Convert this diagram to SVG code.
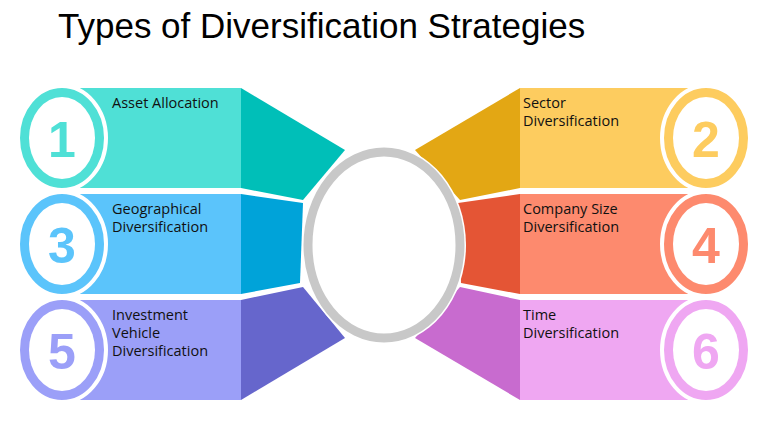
<svg xmlns="http://www.w3.org/2000/svg" width="768" height="437" viewBox="0 0 768 437">
<style>
.t{font-family:"Open Sans",sans-serif;font-size:14.5px;fill:#111}
.n{font-family:"Liberation Sans",Arial,sans-serif;font-size:50px;font-weight:bold;text-anchor:middle}
.ring{stroke:#fff;stroke-width:4}
</style>
<rect width="768" height="437" fill="#fff"/>
<text x="58" y="38" font-family="Liberation Sans,Arial,sans-serif" font-size="35" fill="#000">Types of Diversification Strategies</text>
<g id="connectors"></g>
<g id="n1">
<polygon points="241,88 345,150 303,200 241,188" fill="#00bfb8"/>
<rect x="70" y="88" width="171" height="100" fill="#4fe0d6"/>
<ellipse cx="62" cy="138" rx="44" ry="52" fill="#4fe0d6" class="ring"/>
<ellipse cx="62" cy="138" rx="33" ry="41" fill="#fff"/>
<text x="62" y="157" class="n" fill="#4fe0d6">1</text>
<text x="112" y="108" class="t">Asset Allocation</text>
</g>
<g id="n3">
<polygon points="241,194 303,203 300,283 241,294" fill="#00a3d9"/>
<rect x="70" y="194" width="171" height="100" fill="#5bc4fb"/>
<ellipse cx="62" cy="244" rx="44" ry="52" fill="#5bc4fb" class="ring"/>
<ellipse cx="62" cy="244" rx="33" ry="41" fill="#fff"/>
<text x="62" y="263" class="n" fill="#5bc4fb">3</text>
<text x="112" y="214" class="t">Geographical</text>
<text x="112" y="232" class="t">Diversification</text>
</g>
<g id="n5">
<polygon points="241,300 303,287 345,338 241,400" fill="#6666cc"/>
<rect x="70" y="300" width="171" height="100" fill="#9b9ff8"/>
<ellipse cx="62" cy="350" rx="44" ry="52" fill="#9b9ff8" class="ring"/>
<ellipse cx="62" cy="350" rx="33" ry="41" fill="#fff"/>
<text x="62" y="369" class="n" fill="#9b9ff8">5</text>
<text x="112" y="320" class="t">Investment</text>
<text x="112" y="338" class="t">Vehicle</text>
<text x="112" y="356" class="t">Diversification</text>
</g>
<g id="n2">
<polygon points="520,88 415,150 460,200 520,188" fill="#e3a714"/>
<rect x="520" y="88" width="178" height="100" fill="#fdcc5f"/>
<ellipse cx="706" cy="138" rx="44" ry="52" fill="#fdcc5f" class="ring"/>
<ellipse cx="706" cy="138" rx="33" ry="41" fill="#fff"/>
<text x="706" y="157" class="n" fill="#fdcc5f">2</text>
<text x="523" y="108" class="t">Sector</text>
<text x="523" y="126" class="t">Diversification</text>
</g>
<g id="n4">
<polygon points="520,194 458,203 461,283 520,294" fill="#e45535"/>
<rect x="520" y="194" width="178" height="100" fill="#fd8a6e"/>
<ellipse cx="706" cy="244" rx="44" ry="52" fill="#fd8a6e" class="ring"/>
<ellipse cx="706" cy="244" rx="33" ry="41" fill="#fff"/>
<text x="706" y="263" class="n" fill="#fd8a6e">4</text>
<text x="523" y="214" class="t">Company Size</text>
<text x="523" y="232" class="t">Diversification</text>
</g>
<g id="n6">
<polygon points="520,300 460,287 415,338 520,400" fill="#c86bcf"/>
<rect x="520" y="300" width="178" height="100" fill="#efa7f2"/>
<ellipse cx="706" cy="350" rx="44" ry="52" fill="#efa7f2" class="ring"/>
<ellipse cx="706" cy="350" rx="33" ry="41" fill="#fff"/>
<text x="706" y="369" class="n" fill="#efa7f2">6</text>
<text x="523" y="320" class="t">Time</text>
<text x="523" y="338" class="t">Diversification</text>
</g>
<g id="center">
<ellipse cx="384" cy="245" rx="82" ry="99" fill="#fff"/>
<ellipse cx="384" cy="245" rx="76" ry="93" fill="#fff" stroke="#c8c8c8" stroke-width="9"/>
</g>
</svg>
